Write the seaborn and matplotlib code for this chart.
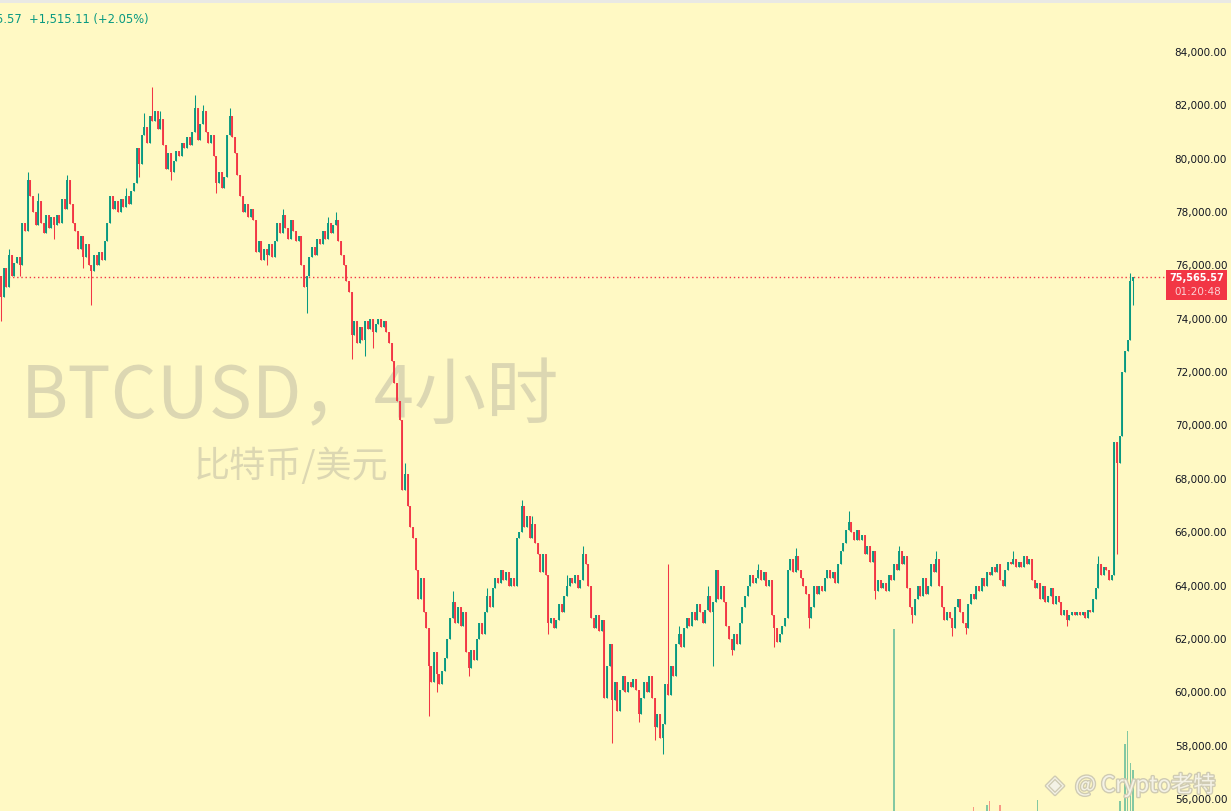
import numpy as np
import pandas as pd
import matplotlib
matplotlib.use("Agg")
import matplotlib.pyplot as plt
import matplotlib.patheffects as pe
from matplotlib.patches import Rectangle
import seaborn as sns

# 1. DATA (prices in thousands of USD, 4h candles)
first_open = 75.6
closes = [
    74.8, 75.9, 75.2, 76.4, 75.6, 76.1, 76.3, 76.0, 77.6, 77.3,
    79.2, 78.6, 78.0, 77.5, 78.4, 77.6, 77.2, 77.9, 77.4, 77.8,
    77.5, 77.9, 77.6, 78.5, 78.1, 79.2, 78.3, 77.6, 77.3, 76.6,
    77.1, 76.3, 76.8, 76.0, 75.8, 76.4, 76.0, 76.5, 76.2, 76.9,
    77.6, 78.6, 78.1, 78.4, 78.0, 78.5, 78.2, 78.6, 78.3, 78.8,
    79.1, 80.4, 79.8, 80.9, 81.2, 80.6, 81.6, 81.4, 81.8, 81.1,
    81.5, 80.5, 79.6, 80.2, 79.5, 79.9, 80.3, 80.1, 80.6, 80.4,
    80.8, 80.5, 81.0, 81.9, 80.7, 81.3, 81.8, 81.0, 80.6, 80.9,
    80.1, 79.1, 79.5, 78.9, 79.3, 80.9, 81.6, 80.8, 80.2, 79.4,
    78.6, 78.0, 78.3, 77.8, 78.1, 77.7, 76.5, 76.9, 76.2, 76.6,
    76.4, 76.8, 76.3, 76.9, 77.6, 77.2, 77.9, 77.4, 77.0, 77.7,
    77.3, 76.9, 77.1, 76.0, 75.2, 75.6, 76.3, 76.7, 76.4, 77.0,
    76.8, 77.3, 77.0, 77.6, 77.2, 77.5, 77.7, 76.9, 76.4, 76.0,
    75.4, 75.0, 73.4, 73.9, 73.1, 73.7, 73.2, 73.9, 73.6, 74.0,
    73.5, 73.8, 74.0, 73.7, 73.9, 73.5, 73.1, 72.4, 71.6, 70.9,
    70.2, 67.6, 68.2, 67.0, 66.2, 65.8, 64.6, 63.5, 64.3, 63.0,
    62.4, 61.0, 60.4, 61.5, 60.7, 60.3, 60.8, 61.3, 62.0, 62.8,
    63.4, 62.6, 63.2, 62.5, 63.0, 61.5, 60.9, 61.6, 61.2, 62.0,
    62.6, 62.2, 63.0, 63.6, 63.2, 63.9, 64.3, 64.1, 64.6, 64.2,
    64.5, 64.0, 64.3, 64.0, 65.8, 66.0, 67.0, 66.2, 66.6, 65.8,
    66.3, 65.6, 65.2, 64.5, 65.2, 64.4, 62.6, 62.8, 62.4, 62.7,
    63.3, 63.0, 63.6, 64.0, 64.3, 64.1, 64.4, 63.9, 64.2, 65.2,
    64.8, 64.0, 62.8, 62.4, 62.9, 62.3, 62.7, 59.8, 61.0, 61.8,
    59.7, 60.4, 59.3, 60.1, 60.6, 60.0, 60.4, 60.2, 60.5, 60.1,
    59.2, 59.8, 60.4, 60.0, 60.6, 59.8, 58.7, 59.2, 58.3, 58.8,
    60.3, 59.9, 61.0, 60.6, 61.8, 62.2, 61.7, 62.4, 62.8, 62.5,
    63.0, 62.7, 63.3, 63.0, 62.6, 63.1, 63.6, 63.0, 63.4, 64.6,
    63.5, 64.0, 63.4, 62.5, 62.0, 61.6, 62.2, 61.8, 62.6, 63.2,
    63.6, 64.0, 64.4, 64.1, 64.3, 64.6, 64.2, 64.5, 64.0, 64.2,
    62.9, 62.4, 61.9, 62.2, 62.5, 62.8, 64.6, 65.0, 64.5, 65.1,
    64.6, 64.3, 64.0, 63.7, 62.8, 63.2, 64.0, 63.7, 64.0, 63.8,
    64.3, 64.6, 64.3, 64.5, 64.1, 64.8, 65.3, 65.6, 66.1, 66.4,
    66.0, 65.7, 66.1, 65.7, 65.9, 65.2, 65.5, 64.9, 65.3, 63.8,
    64.2, 63.9, 64.1, 63.8, 64.4, 64.2, 64.8, 64.6, 65.3, 64.8,
    65.1, 63.9, 63.2, 62.9, 63.5, 64.0, 63.6, 64.3, 63.7, 64.0,
    64.8, 64.5, 65.0, 64.0, 63.2, 62.7, 63.0, 62.8, 62.4, 63.2,
    63.5, 63.0, 62.6, 62.4, 63.3, 63.7, 63.5, 64.0, 63.8, 64.3,
    64.0, 64.5, 64.4, 64.7, 64.5, 64.8, 64.2, 64.0, 64.6, 64.9,
    64.8, 65.0, 64.7, 64.9, 64.7, 65.1, 64.8, 65.0, 64.2, 63.9,
    64.1, 63.5, 64.0, 63.4, 63.6, 63.9, 63.3, 63.6, 63.4, 62.9,
    63.1, 62.7, 62.9, 63.0, 62.9, 63.0, 62.9, 63.0, 62.8, 63.1,
    63.0, 63.5, 63.9, 64.8, 64.4, 64.7, 64.6, 64.2, 64.4,
    69.4, 68.6, 69.6, 72.0, 72.8, 73.2, 75.4, 75.56557,
]

# wick extremes (candle index -> price)
hi_idx = [3, 10, 14, 25, 47, 54, 57, 60, 73, 76, 86, 106, 123, 126, 152, 170,
          183, 196, 200, 213, 219, 251, 255, 266, 285, 299, 319, 338, 352, 381,
          413, 425]
hi_val = [76.6, 79.5, 78.7, 79.4, 78.9, 81.7, 82.7, 81.8, 82.4, 82.0, 81.9, 78.1,
          77.8, 78.0, 68.6, 63.8, 63.9, 67.2, 66.6, 64.4, 65.5, 64.8, 62.5, 64.0,
          64.8, 65.4, 66.8, 65.5, 65.3, 65.3, 65.1, 75.7]
lo_idx = [0, 7, 20, 31, 34, 52, 64, 81, 100, 115, 132, 137, 140, 161, 164, 176,
          206, 230, 240, 246, 249, 268, 275, 291, 304, 329, 343, 358, 363, 401,
          420, 426]
lo_val = [73.9, 75.6, 77.0, 75.9, 74.5, 79.3, 79.2, 78.7, 76.0, 74.2, 72.5, 72.6,
          72.9, 59.1, 60.0, 60.6, 62.2, 58.1, 58.9, 58.2, 57.7, 61.0, 61.4, 61.7,
          62.4, 63.5, 62.6, 62.1, 62.2, 62.5, 65.2, 74.5]

# volume spikes that reach into the visible area (BTC)
vol_idx = [336, 366, 371, 372, 376, 390, 421, 423, 424, 425, 426]
vol_val = [2240, 50, 70, 120, 70, 140, 120, 830, 990, 590, 500]

last_price = 75565.57
change_text = "5.57  +1,515.11 (+2.05%)"
countdown = "01:20:48"
y_ticks = list(range(56000, 84001, 2000))

# 2. BUILD OHLC TABLE
df = pd.DataFrame({"close": np.array(closes) * 1000})
df["open"] = df["close"].shift(1).fillna(first_open * 1000)
df["high"] = df[["open", "close"]].max(axis=1)
df["low"] = df[["open", "close"]].min(axis=1)
for i, v in zip(hi_idx, hi_val):
    df.loc[i, "high"] = max(df.loc[i, "high"], v * 1000)
for i, v in zip(lo_idx, lo_val):
    df.loc[i, "low"] = min(df.loc[i, "low"], v * 1000)
df["up"] = df["close"] >= df["open"]
df["x"] = np.arange(len(df))

vol = pd.Series(0.0, index=df.index)
vol[vol_idx] = vol_val

UP = "#089981"
DOWN = "#F23645"
BG = "#FFF9C4"
df["color"] = np.where(df["up"], UP, DOWN)

# 3. PLOT
sns.set_theme(style="white")
plt.rcParams["font.family"] = ["DejaVu Sans"]

W, H = 1231, 811
fig = plt.figure(figsize=(W / 100, H / 100), dpi=100, facecolor=BG)
plot_right = 1165
ax = fig.add_axes([0, 0, plot_right / W, 1])
ax.set_facecolor(BG)

dx = (1133 - 1) / (len(df) - 1)
ax.set_xlim(-1 / dx, (plot_right - 1) / dx)
ax.set_ylim(55550, 85949)

# watermark behind candles
ax.text(290 / W, 1 - 398 / H, "BTCUSD，4小时", transform=fig.transFigure,
        ha="center", va="center", fontsize=52, color="#DCD7B2",
        family=["Noto Sans CJK SC", "DejaVu Sans"], zorder=0.5)
ax.text(291 / W, 1 - 466 / H, "比特币/美元", transform=fig.transFigure,
        ha="center", va="center", fontsize=26, color="#DCD7B2",
        family=["Noto Sans CJK SC", "DejaVu Sans"], zorder=0.5)

# candles
ax.vlines(df["x"], df["low"], df["high"], colors=df["color"], lw=0.75, zorder=2)
ax.vlines(df["x"], df["open"], df["close"], colors=df["color"], lw=1.35, zorder=2)

# last price line
ax.axhline(last_price, color=DOWN, lw=1.0, linestyle=(0, (1, 2)), zorder=1.5)

# volume pane
ax2 = ax.twinx()
ax2.set_ylim(0, 10000)
vcol = np.where(df["up"], UP, DOWN)
ax2.bar(df["x"], vol, width=0.6, color=vcol, alpha=0.5, linewidth=0)
ax2.set_yticks([])
ax2.set_xlim(ax.get_xlim())
for s in ax2.spines.values():
    s.set_visible(False)

# axes styling
for s in ax.spines.values():
    s.set_visible(False)
ax.set_xticks([])
ax.yaxis.tick_right()
ax.set_yticks(y_ticks)
ax.set_yticklabels([f"{t:,.2f}" for t in y_ticks])
ax.tick_params(axis="y", length=0, pad=7, labelsize=7.5, labelcolor="#131722")
ax.grid(False)

# price label box
fig.add_artist(Rectangle((1166 / W, 1 - 300 / H), 61 / W, 30 / H,
                         transform=fig.transFigure, color=DOWN, lw=0))
fig.text(1196.5 / W, 1 - 278 / H, f"{last_price:,.2f}", color="white",
         fontsize=7, fontweight="bold", va="center", ha="center")
fig.text(1174 / W, 1 - 292 / H, countdown, color="#FBD0D4",
         fontsize=7.5, va="center", ha="left")

# header
fig.add_artist(Rectangle((0, 1 - 2.5 / H), 1, 2.5 / H, transform=fig.transFigure,
                         color="#E9E9E4", lw=0))
fig.text(-4 / W, 1 - 19 / H, change_text, color=UP, fontsize=8.3,
         va="center", ha="left")

# corner watermark
fig.text(1055 / W, 1 - 785 / H, "◈", color="#F4F2E6", fontsize=17,
         va="center", ha="center", family=["DejaVu Sans"],
         path_effects=[pe.withStroke(linewidth=2, foreground="#CFCBB3")])
fig.text(1075 / W, 1 - 785 / H, "@ Crypto老特", color="#F4F2E6", fontsize=16,
         va="center", ha="left", family=["Noto Sans CJK SC", "DejaVu Sans"],
         path_effects=[pe.withStroke(linewidth=2, foreground="#CFCBB3")])

fig.savefig("out.png", dpi=100, facecolor=BG)
